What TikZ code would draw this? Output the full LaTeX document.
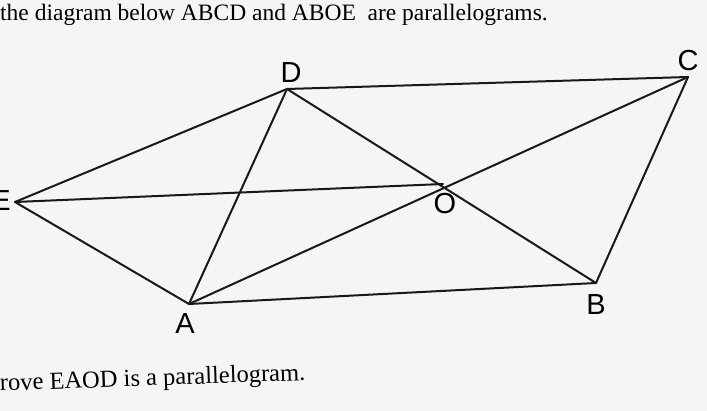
\documentclass[tikz,border=0pt]{standalone}
\usepackage{fontspec}
\setmainfont{Liberation Serif}
\newfontfamily\lblfont{Liberation Sans}
\begin{document}
\begin{tikzpicture}[x=1pt,y=-1pt,
  seg/.style={line width=2pt,line cap=round,line join=round,black!90},
  lbl/.style={font=\lblfont\fontsize{29}{29}\selectfont,inner sep=0pt},
  txt/.style={font=\fontsize{23.5}{24}\selectfont,inner sep=0pt,anchor=base west}]
\useasboundingbox (0,0) rectangle (707,411);
\clip (0,0) rectangle (707,411);
\fill[black!4] (0,0) rectangle (707,411);
\coordinate (A) at (189,304);
\coordinate (B) at (596,283);
\coordinate (C) at (688,77);
\coordinate (D) at (287,89);
\coordinate (E) at (15,202);
\coordinate (O) at (443,184);
\draw[seg] (A) -- (B) -- (C) -- (D) -- cycle;
\draw[seg] (E) -- (D);
\draw[seg] (E) -- (A);
\draw[seg] (E) -- (O);
\draw[seg] (D) -- (B);
\draw[seg] (A) -- (C);
\node[lbl] (lA) at (185,324) {A};
\node[lbl] (lB) at (596,305) {B};
\node[lbl] (lC) at (688,61) {C};
\node[lbl] (lD) at (291,73) {D};
\node[lbl] (lO) at (445,204) {O};
\node[lbl] (lE) at (1,201) {E};
\node[txt] (t1) at (0,21) {the diagram below ABCD and ABOE\ \ are parallelograms.};
\node[txt,rotate=2,font=\fontsize{24.5}{25}\selectfont] (t2) at (0,391) {rove EAOD is a parallelogram.};
\end{tikzpicture}
\end{document}
